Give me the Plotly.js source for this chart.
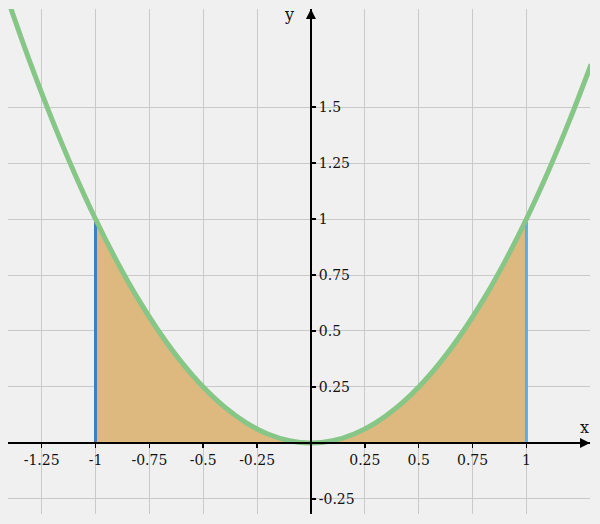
<!DOCTYPE html>
<html>
<head>
<meta charset="utf-8">
<script src="https://cdn.plot.ly/plotly-3.0.1.min.js"></script>
<style>html,body{margin:0;padding:0;background:#f0f0f0;}#chart{width:600px;height:524px;}</style>
</head>
<body>
<div id="chart"></div>
<script>
// Curve y = x^2
var curveX = [-1.4,-1.3,-1.2,-1.1,-1.0,-0.9,-0.8,-0.7,-0.6,-0.5,-0.4,-0.3,-0.2,-0.1,0,0.1,0.2,0.3,0.4,0.5,0.6,0.7,0.8,0.9,1.0,1.1,1.2,1.3];
var curveY = [1.96,1.69,1.44,1.21,1.0,0.81,0.64,0.49,0.36,0.25,0.16,0.09,0.04,0.01,0,0.01,0.04,0.09,0.16,0.25,0.36,0.49,0.64,0.81,1.0,1.21,1.44,1.69];
// integration bounds
var lowerBound = -1;
var upperBound = 1;
// tick labels
var xTickVals = [-1.25,-1,-0.75,-0.5,-0.25,0.25,0.5,0.75,1];
var xTickText = ['-1.25','-1','-0.75','-0.5','-0.25','0.25','0.5','0.75','1'];
var yTickVals = [-0.25,0.25,0.5,0.75,1,1.25,1.5];
var yTickText = ['-0.25','0.25','0.5','0.75','1','1.25','1.5'];

var fillX = [], fillY = [];
for (var i = 0; i < curveX.length; i++) {
  if (curveX[i] >= lowerBound - 1e-9 && curveX[i] <= upperBound + 1e-9) { fillX.push(curveX[i]); fillY.push(curveY[i]); }
}
var yAtLower = curveY[curveX.indexOf(lowerBound)];
var yAtUpper = curveY[curveX.indexOf(upperBound)];

var traces = [
  {x: fillX, y: fillY, mode: 'lines', fill: 'tozeroy', fillcolor: '#ddb87f',
   line: {color: '#d1a04e', width: 2, shape: 'spline'}, hoverinfo: 'skip'},
  {x: [lowerBound, lowerBound], y: [0, yAtLower], mode: 'lines', line: {color: '#3f7fbf', width: 3}, hoverinfo: 'skip'},
  {x: [upperBound, upperBound], y: [0, yAtUpper], mode: 'lines', line: {color: '#5cade0', width: 3}, hoverinfo: 'skip'},
  {x: curveX, y: curveY, mode: 'lines', line: {color: '#86c686', width: 5, shape: 'spline'}, hoverinfo: 'skip'}
];

var axFont = {family: 'DejaVu Serif, serif', size: 14, color: '#111'};
var layout = {
  width: 600, height: 524,
  margin: {l: 8, r: 10, t: 9, b: 10, pad: 0},
  paper_bgcolor: '#f0f0f0', plot_bgcolor: '#f0f0f0',
  showlegend: false,
  xaxis: {range: [-1.406, 1.295], tickvals: xTickVals, ticktext: xTickText,
    showgrid: true, gridcolor: '#c9c9c9', gridwidth: 1, zeroline: false,
    showline: true, linecolor: '#000', linewidth: 2,
    anchor: 'free', position: 0.1406, side: 'bottom',
    ticks: 'outside', ticklen: 4, tickwidth: 1.5, tickcolor: '#000',
    tickfont: axFont, fixedrange: true},
  yaxis: {range: [-0.317, 1.9375], tickvals: yTickVals, ticktext: yTickText,
    showgrid: true, gridcolor: '#c9c9c9', gridwidth: 1, zeroline: false,
    showline: true, linecolor: '#000', linewidth: 2,
    anchor: 'free', position: 0.5206, side: 'right',
    ticks: 'outside', ticklen: 4, tickwidth: 1.5, tickcolor: '#000',
    tickfont: axFont, fixedrange: true},
  annotations: [
    {xref: 'paper', yref: 'y', x: 1, y: 0, ax: -14, ay: 0, text: '', showarrow: true,
     arrowhead: 2, arrowsize: 1, arrowwidth: 2, arrowcolor: '#000'},
    {xref: 'x', yref: 'paper', x: 0, y: 1, ax: 0, ay: 14, text: '', showarrow: true,
     arrowhead: 2, arrowsize: 1, arrowwidth: 2, arrowcolor: '#000'},
    {xref: 'paper', yref: 'y', x: 0.991, y: 0.068, xanchor: 'center', yanchor: 'middle', text: 'x', showarrow: false, font: {family: 'DejaVu Serif, serif', size: 16, color: '#111'}},
    {xref: 'x', yref: 'paper', x: -0.1, y: 0.99, xanchor: 'center', yanchor: 'middle', text: 'y', showarrow: false, font: {family: 'DejaVu Serif, serif', size: 16, color: '#111'}}
  ]
};
Plotly.newPlot('chart', traces, layout, {staticPlot: true});
</script>
</body>
</html>
